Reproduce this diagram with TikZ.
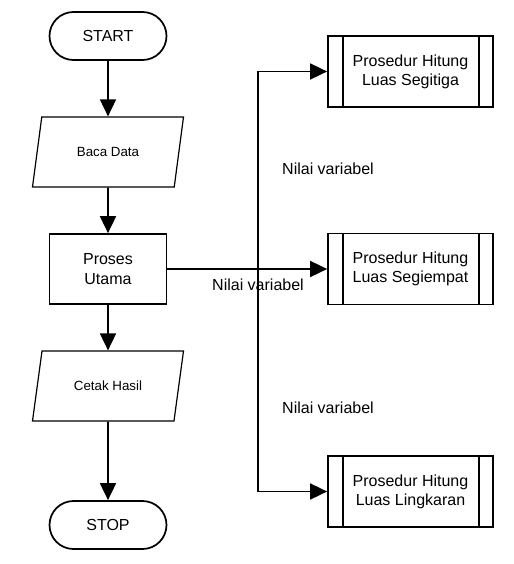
\documentclass[tikz,border=0pt]{standalone}
\usepackage{fontspec}
\setmainfont{Liberation Sans}
\usetikzlibrary{arrows.meta,shapes.geometric}

\tikzset{
	term/.style={draw, line width=1.3pt, rounded corners=18pt, minimum width=87.75pt,
		minimum height=36pt, font=\fontsize{12}{14.4}\selectfont},
	io/.style={draw, line width=0.9pt, trapezium, trapezium left angle=63,
		trapezium right angle=117, trapezium stretches body, minimum width=113.25pt,
		minimum height=52.5pt, inner xsep=0pt, font=\fontsize{10}{12}\selectfont},
	proc/.style={draw, line width=1.3pt, minimum width=87.75pt, minimum height=52.5pt,
		align=center, font=\fontsize{12}{14.4}\selectfont},
	subproc/.style={draw, line width=1.3pt, minimum width=123.75pt, minimum height=53.25pt,
		align=center, font=\fontsize{12}{14.4}\selectfont,
		path picture={
			\draw[line width=1.3pt]
			([xshift=11.25pt]path picture bounding box.north west) --
			([xshift=11.25pt]path picture bounding box.south west)
			([xshift=-10.5pt]path picture bounding box.north east) --
			([xshift=-10.5pt]path picture bounding box.south east);
		}},
	lbl/.style={font=\fontsize{12}{14.4}\selectfont},
	arr/.style={line width=1.3pt, -{Triangle[length=12.75pt,width=12pt]}}
}

\begin{document}
\begin{tikzpicture}[x=0.75pt,y=-0.75pt]
		\useasboundingbox (0,0) rectangle (514,564);
		% left column
		\node[term] (start) at (108,36) {START};
		\node[io] (baca) at (108,152) {Baca Data};
		\node[proc] (proses) at (108,269) {Proses\\Utama};
		\node[io] (cetak) at (108,386) {Cetak Hasil};
		\node[term] (stop) at (108,525) {STOP};
		% right column
		\node[subproc] (segitiga) at (410.5,71.5) {Prosedur Hitung\\Luas Segitiga};
		\node[subproc] (segiempat) at (410.5,269) {Prosedur Hitung\\Luas Segiempat};
		\node[subproc] (lingkaran) at (410.5,491.5) {Prosedur Hitung\\Luas Lingkaran};
		\coordinate (split) at (258,269);
		% labels
		\node[lbl] (nv1) at (328,169) {Nilai variabel};
		\node[lbl] (nv2) at (258,285) {Nilai variabel};
		\node[lbl] (nv3) at (328,408) {Nilai variabel};
		%
		\draw[arr] (start) -- (baca);
		\draw[arr] (baca) -- (proses);
		\draw[arr] (proses) -- (cetak);
		\draw[arr] (cetak) -- (stop);
		\draw[arr] (proses) -- (segiempat);
		\draw[arr] (split) |- (segitiga);
		\draw[arr] (split) |- (lingkaran);
\end{tikzpicture}
\end{document}
